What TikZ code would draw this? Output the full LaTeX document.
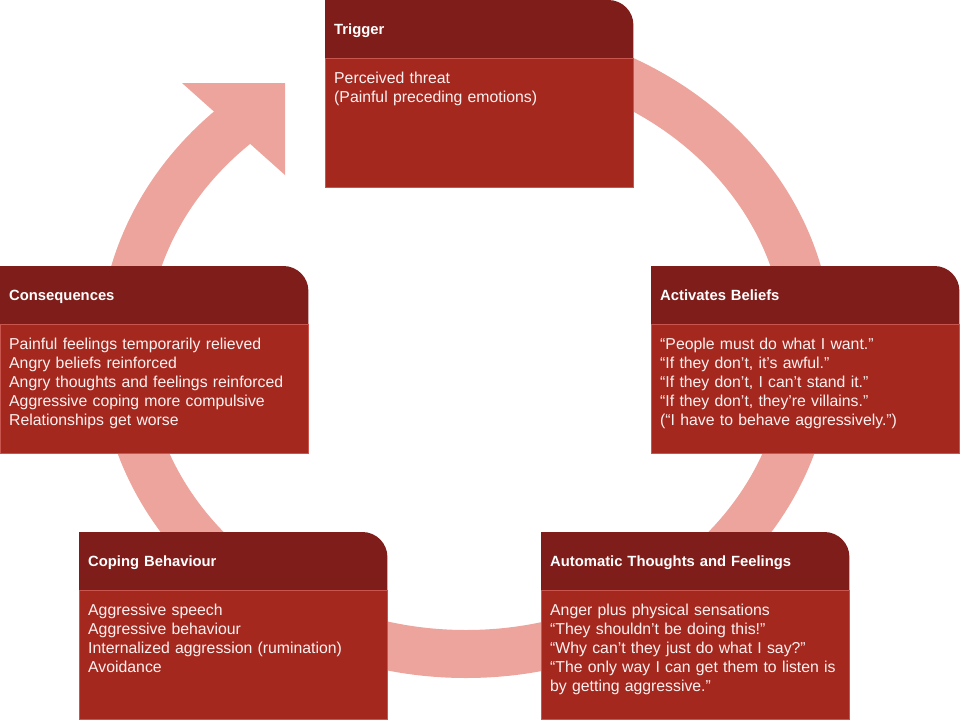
\documentclass[tikz,border=0pt]{standalone}
\usepackage{fontspec}
\setmainfont{Liberation Sans}
\usetikzlibrary{positioning,backgrounds}

\definecolor{headred}{HTML}{7F1D1A}
\definecolor{bodyred}{HTML}{A5281F}
\definecolor{ringpink}{HTML}{EDA49D}
\definecolor{edgered}{HTML}{C9564E}

\begin{document}
\begin{tikzpicture}[x=1pt,y=-1pt,
  head/.style={anchor=north west, text width=290pt, inner xsep=9pt, inner ysep=0pt,
    minimum height=58pt, text height=12.5pt, text depth=1.5pt, align=left,
    text=white, font=\fontsize{14.8}{18}\selectfont\bfseries},
  bodytext/.style={below=0pt of #1, text width=290pt, inner xsep=9pt, inner ysep=0pt,
    text height=24.5pt, text depth=104.5pt, align=left, text=white!94!bodyred,
    font=\fontsize{15.8}{19}\selectfont, fill=bodyred, draw=edgered, line width=0.6pt},
  headfill/.style={fill=headred}
]
  \useasboundingbox (0,0) rectangle (960,720);
  % the cycle ring
  \begin{scope}[on background layer]
    \draw[ringpink, line width=48pt] (466,350) ++(-90:343 and 304)
      arc[start angle=-90, end angle=228, x radius=343, y radius=304];
    \fill[ringpink] (182,83) -- (285,83) -- (285,175) -- cycle;
  \end{scope}

  \node[head] (trig) at (325,0) {Trigger};
  \node[bodytext=trig] (trigbody) {Perceived threat\\(Painful preceding emotions)};

  \node[head] (belief) at (651,266) {Activates Beliefs};
  \node[bodytext=belief] (beliefbody) {“People must do what I want.”\\
    “If they don’t, it’s awful.”\\
    “If they don’t, I can’t stand it.”\\
    “If they don’t, they’re villains.”\\
    (“I have to behave aggressively.”)};

  \node[head] (auto) at (541,532) {Automatic Thoughts and Feelings};
  \node[bodytext=auto] (autobody) {Anger plus physical sensations\\
    “They shouldn’t be doing this!”\\
    “Why can’t they just do what I say?”\\
    “The only way I can get them to listen is\\
    by getting aggressive.”};

  \node[head] (cope) at (79,532) {Coping Behaviour};
  \node[bodytext=cope] (copebody) {Aggressive speech\\
    Aggressive behaviour\\
    Internalized aggression (rumination)\\
    Avoidance};

  \node[head] (conseq) at (0,266) {Consequences};
  \node[bodytext=conseq] (conseqbody) {Painful feelings temporarily relieved\\
    Angry beliefs reinforced\\
    Angry thoughts and feelings reinforced\\
    Aggressive coping more compulsive\\
    Relationships get worse};

  % header shapes, rounded at the top right
  \begin{scope}[on background layer]
    \foreach \h in {trig,belief,auto,cope,conseq}
      \fill[headfill] (\h.south west) -- (\h.north west)
        [rounded corners=25pt] -- (\h.north east) [sharp corners] -- (\h.south east) -- cycle;
  \end{scope}
\end{tikzpicture}
\end{document}
